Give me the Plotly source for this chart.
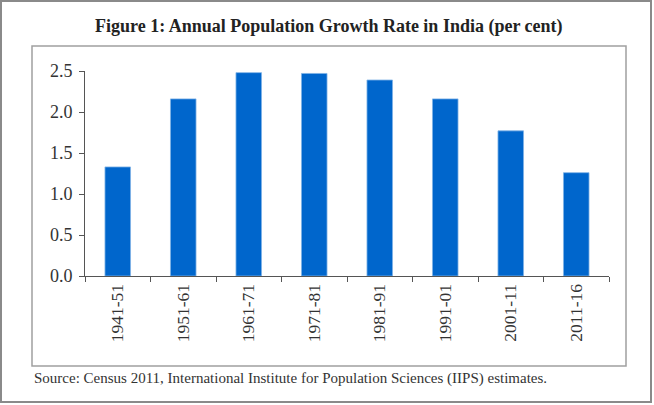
import plotly.graph_objects as go

periods = ["1941-51", "1951-61", "1961-71", "1971-81", "1981-91", "1991-01", "2001-11", "2011-16"]
growth = [1.33, 2.16, 2.48, 2.47, 2.39, 2.16, 1.77, 1.26]
y_ticks = [0.0, 0.5, 1.0, 1.5, 2.0, 2.5]

title_text = "Figure 1: Annual Population Growth Rate in India (per cent)"
source_text = "Source: Census 2011, International Institute for Population Sciences (IIPS) estimates."

serif = "Liberation Serif, Times New Roman, serif"

fig = go.Figure(go.Bar(
    x=periods, y=growth,
    marker=dict(color="#0066CC", line=dict(color="#7fb3e6", width=0.8)),
    width=0.39,
))

fig.update_layout(
    width=654, height=405,
    margin=dict(l=85, r=45, t=71, b=129),
    paper_bgcolor="white", plot_bgcolor="white",
    showlegend=False,
    font=dict(family=serif, color="#333333"),
    xaxis=dict(
        type="category", tickson="boundaries", ticks="outside", ticklen=5,
        tickcolor="#555555", showline=True, linecolor="#555555", linewidth=1,
        tickangle=-90, tickfont=dict(size=17.5, family=serif, color="#333333"),
        showgrid=False, fixedrange=True,
    ),
    yaxis=dict(
        range=[0, 2.5], tickvals=y_ticks, tickformat=".1f",
        ticks="outside", ticklen=5, tickcolor="#555555",
        showline=True, linecolor="#555555", linewidth=1,
        ticklabelstandoff=3,
        tickfont=dict(size=18, family=serif, color="#333333"),
        showgrid=False, zeroline=False, fixedrange=True,
    ),
    shapes=[
        dict(type="rect", xref="paper", yref="paper", layer="below",
             x0=-53 / 524, x1=(626 - 85) / 524, y0=-(366 - 276) / 205, y1=(276 - 46) / 205,
             line=dict(color="#a0a0a0", width=1.5)),
        dict(type="rect", xref="paper", yref="paper", layer="below",
             x0=-84 / 524, x1=(651 - 85) / 524, y0=-(402 - 276) / 205, y1=(276 - 1) / 205,
             line=dict(color="#8a8a8a", width=2)),
    ],
    annotations=[
        dict(text="<b>" + title_text + "</b>", xref="paper", yref="paper",
             x=(329 - 85) / 524, y=(276 - 26) / 205, xanchor="center", yanchor="middle",
             showarrow=False, font=dict(size=18, family=serif, color="#222222")),
        dict(text=source_text, xref="paper", yref="paper",
             x=(32 - 85) / 524, y=(276 - 378) / 205, xanchor="left", yanchor="middle",
             showarrow=False, font=dict(size=15, family=serif, color="#333333")),
    ],
)

fig.write_html("out.html")
